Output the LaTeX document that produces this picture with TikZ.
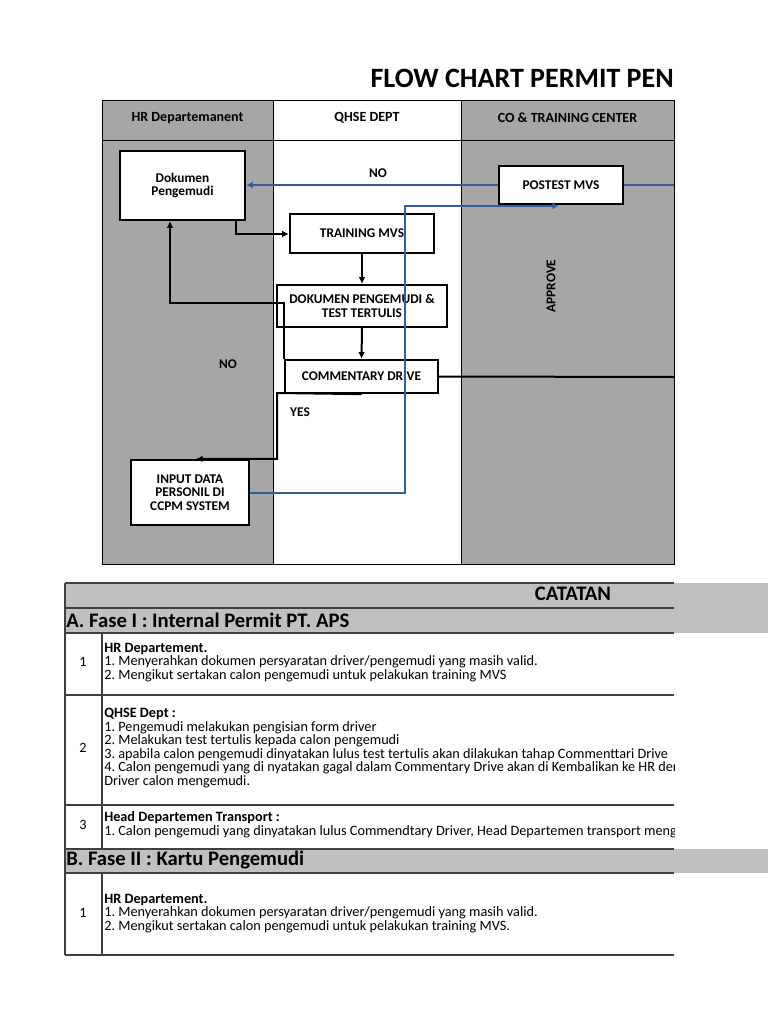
\documentclass[tikz,border=0pt]{standalone}
\usepackage{fontspec}
\setmainfont{Carlito}
\usetikzlibrary{arrows.meta}
\definecolor{lanegray}{RGB}{166,166,166}
\definecolor{tabgray}{RGB}{192,192,192}
\definecolor{flowblue}{RGB}{47,95,158}
\definecolor{rulegray}{RGB}{64,64,64}
\frenchspacing
\begin{document}
\begin{tikzpicture}[x=0.75pt,y=-0.75pt,
  laneline/.style={draw=black, line width=0.7pt},
  tabline/.style={draw=rulegray, line width=1.1pt},
  box/.style={draw=black, line width=1.7pt, fill=white, align=center, inner sep=0pt,
              font=\bfseries\fontsize{10}{10}\selectfont},
  lbl/.style={inner sep=0pt, font=\bfseries\fontsize{10}{12}\selectfont},
  hdr/.style={inner sep=0pt, font=\bfseries\fontsize{10.5}{12}\selectfont},
  conn/.style={draw=black, line width=1.5pt},
  arr/.style={-{Latex[length=5pt,width=5pt]}},
  bconn/.style={draw=flowblue, line width=1.5pt},
  body/.style={inner sep=0pt, align=left, anchor=west, font=\fontsize{10.7}{10.1}\selectfont},
  num/.style={inner sep=0pt, font=\fontsize{10.7}{12}\selectfont},
  sect/.style={inner sep=0pt, anchor=west, font=\bfseries\fontsize{15.5}{18}\selectfont}
]
\useasboundingbox (0,0) rectangle (768,1024);
\fill[white] (0,0) rectangle (768,1024);

% ---------- title ----------
\node[inner sep=0pt, anchor=base east, font=\bfseries\fontsize{21}{24}\selectfont] (title) at (674,88) {FLOW CHART PERMIT PEN};

% ---------- swimlanes ----------
\fill[lanegray] (102,100) rectangle (273,564);
\fill[lanegray] (461,100) rectangle (674,564);
\draw[laneline] (102,100) rectangle (674,564);
\draw[laneline] (102,140) -- (674,140);
\draw[laneline] (273,100) -- (273,564);
\draw[laneline] (461,100) -- (461,564);

\node[hdr] (h1) at (187.5,118) {HR Departemanent};
\node[hdr] (h2) at (367,118) {QHSE DEPT};
\node[hdr] (h3) at (567.5,118) {CO \& TRAINING CENTER};

% ---------- boxes ----------
\node[box, minimum width=93.75pt, minimum height=51.75pt] (dok) at (182.5,185.5) {Dokumen\\Pengemudi};
\node[box, minimum width=93pt, minimum height=28.5pt] (post) at (561,185) {POSTEST MVS};
\node[box, minimum width=108pt, minimum height=29.25pt] (train) at (362,233.5) {TRAINING MVS};
\node[box, minimum width=127.5pt, minimum height=31.5pt] (dokpt) at (362,306) {DOKUMEN PENGEMUDI \&\\TEST TERTULIS};
\node[box, minimum width=114.75pt, minimum height=24.75pt] (comm) at (361.5,376.5) {COMMENTARY DRIVE};
\node[box, minimum width=88.5pt, minimum height=48.75pt] (input) at (190,492.5) {INPUT DATA\\PERSONIL DI\\CCPM SYSTEM};

% ---------- labels ----------
\node[lbl] (no1) at (378,173) {NO};
\node[lbl] (no2) at (228,364) {NO};
\node[lbl] (yes) at (300,412) {YES};
\node[lbl, rotate=90] (appr) at (551,286) {APPROVE};

% ---------- coordinates ----------
\coordinate (d1) at (236,234);
\coordinate (n1) at (284,303);
\coordinate (n2) at (170,303);
\coordinate (y1) at (277,393);
\coordinate (y2) at (196,460);
\coordinate (b1) at (405,206);
\coordinate (bt) at (559,206);
\coordinate (rpost) at (674,185);
\coordinate (rcomm) at (674,377);

% ---------- black connectors ----------
\draw[conn, arr] (d1 |- dok.south) -- (d1) -- (d1 -| train.west);
\draw[conn, arr] (train.south) -- (dokpt.north);
\draw[conn, arr] (dokpt.south) -- (comm.north);
\draw[conn, arr] (n1 |- comm.north) -- (n1) -- (n2) -- (n2 |- dok.south);
\draw[conn, arr] (comm.south) -- (y1) -- (y1 |- input.north) -- (y2 |- input.north);
\draw[conn] (comm.east) -- (rcomm);

% ---------- blue connectors ----------
\draw[bconn, arr] (post.west) -- (post.west -| dok.east);
\draw[bconn] (post.east) -- (rpost);
\draw[bconn, arr] (input.east) -- (input.east -| b1) -- (b1) -- (bt);

% ---------- notes table ----------
\fill[tabgray] (65,583) rectangle (768,633);
\fill[tabgray] (65,849) rectangle (768,873);
\foreach \yy in {583,608,633,695,805,849,873,955}
  \draw[tabline] (65,\yy) -- (674,\yy);
\draw[tabline] (65,583) -- (65,955);
\draw[tabline] (102,633) -- (102,849);
\draw[tabline] (102,873) -- (102,955);

\node[inner sep=0pt, font=\bfseries\fontsize{15.5}{18}\selectfont] (cat) at (573,594) {CATATAN};
\node[sect] (fa) at (66,620) {A. Fase I : Internal Permit PT. APS};
\node[sect] (fb) at (66,860) {B. Fase II : Kartu Pengemudi};

\node[num] (r1n) at (83,662) {1};
\node[num] (r2n) at (83,748) {2};
\node[num] (r3n) at (83,825) {3};
\node[num] (r4n) at (83,913) {1};

\begin{scope}
\clip (0,0) rectangle (674,1024);
\node[body] (r1) at (104,662.5) {\textbf{HR Departement.}\\1. Menyerahkan dokumen persyaratan driver/pengemudi yang masih valid.\\2. Mengikut sertakan calon pengemudi untuk pelakukan training MVS};
\node[body] (r2) at (104,748) {\textbf{QHSE Dept :}\\1. Pengemudi melakukan pengisian form driver\\2. Melakukan test tertulis kepada calon pengemudi\\3. apabila calon pengemudi dinyatakan lulus test tertulis akan dilakukan tahap Commenttari Drive\\4. Calon pengemudi yang di nyatakan gagal dalam Commentary Drive akan di Kembalikan ke HR dengan\\Driver calon mengemudi.};
\node[body] (r3) at (104,824.5) {\textbf{Head Departemen Transport :}\\1. Calon pengemudi yang dinyatakan lulus Commendtary Driver, Head Departemen transport meng};
\node[body] (r4) at (104,913.5) {\textbf{HR Departement.}\\1. Menyerahkan dokumen persyaratan driver/pengemudi yang masih valid.\\2. Mengikut sertakan calon pengemudi untuk pelakukan training MVS.};
\end{scope}
\end{tikzpicture}
\end{document}
